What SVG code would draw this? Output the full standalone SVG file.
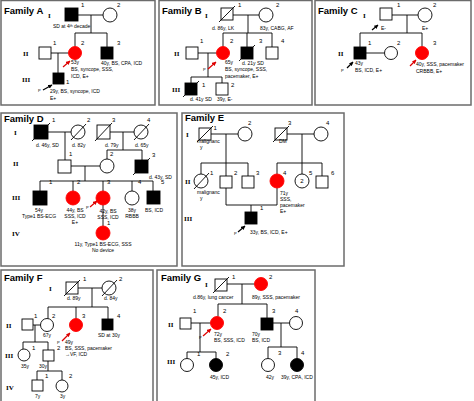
<svg xmlns="http://www.w3.org/2000/svg" width="474" height="401" viewBox="0 0 474 401">
<style>
.frame{fill:#fff;stroke:#6b6b6b;stroke-width:1.5}
.u{fill:#fff;stroke:#000;stroke-width:0.9}
.b{fill:#000;stroke:#000;stroke-width:0.9}
.r{fill:#f00;stroke:#f00;stroke-width:0.9}
.ln{stroke:#000;stroke-width:0.9;fill:none}
.sl{stroke:#000;stroke-width:0.9}
.ab{stroke:#000;stroke-width:1.2;marker-end:url(#hb)}
.ar{stroke:#d00;stroke-width:1.2;marker-end:url(#hr)}
.t{font-family:"Liberation Sans",Arial,sans-serif;font-size:5px;fill:#000}
.c{text-anchor:middle}
.n{font-family:"Liberation Sans",Arial,sans-serif;font-size:6px;fill:#000}
.g{font-family:"Liberation Serif","Times New Roman",serif;font-size:7px;font-weight:bold;fill:#000}
.ti{font-family:"Liberation Sans",Arial,sans-serif;font-size:9.5px;font-weight:bold;fill:#000}
.p{font-family:"Liberation Sans",Arial,sans-serif;font-size:4px;fill:#000}
</style>
<defs>
<marker id="hb" viewBox="0 0 10 10" refX="9" refY="5" markerWidth="3.5" markerHeight="3.5" orient="auto"><path d="M0,0 L10,5 L0,10 z" fill="#000"/></marker>
<marker id="hr" viewBox="0 0 10 10" refX="9" refY="5" markerWidth="3.5" markerHeight="3.5" orient="auto"><path d="M0,0 L10,5 L0,10 z" fill="#d00"/></marker>
</defs>
<rect x="0" y="0" width="474" height="401" fill="#fff"/>
<g id="frames">
<rect class="frame" x="1" y="0.5" width="154" height="104.5"/>
<rect class="frame" x="159" y="0.5" width="153" height="104.5"/>
<rect class="frame" x="315" y="0.5" width="156" height="104.5"/>
<rect class="frame" x="1" y="113" width="176" height="153"/>
<rect class="frame" x="182" y="113" width="162" height="153"/>
<rect class="frame" x="1" y="270" width="152" height="135"/>
<rect class="frame" x="157" y="270" width="158" height="135"/>
</g>
<g id="connectors">
<path class="ln" d="M78,15H103M91,15V33M75,33H107M75,33V46.5M107,33V47M51,53H68.5M58,53V73"/>
<path class="ln" d="M233,15H259M248,15V33M223,33H272M223,33V46.5M247,33V47M272,33V47M198,53H216.5M208,53V77M191,77H222M191,77V83M222,77V83"/>
<path class="ln" d="M392,15H418M407,15V33M360,33H422M360,33V47M422,33V46.5M366,53H384.5"/>
<path class="ln" d="M48,132H71M65,132V160M110,132H134M123,132V150M107,150H142M107,150V159M142,150V160M71,166H100M85,166V181M40,181H153M40,181V191M73,181V191M103,181V191M132,181V191M153,181V191M103,205V226"/>
<path class="ln" d="M211,134H238M226,134V163M201,163H248M201,163V174M226,163V176M248,163V176M287,134H314M302,134V163M277,163H322M277,163V174M302,163V174M322,163V176M226,188V205H277V188M251,205V212"/>
<path class="ln" d="M78,288H102M92,288V307M48,307H108M48,307V318.5M76,307V318.5M108,307V319M33,325H40.5M35,325V342M23,342H48M23,342V349M48,342V350M48,361V371M37,371H62M37,371V380M62,371V380"/>
<path class="ln" d="M227,284H254.5M242,284V304M218,304H267M218,304V316.5M267,304V318M191,323H210.5M200,323V352M187,352H216M187,352V358.5M216,352V358.5M273,323H289.5M281,323V347M268,347H297M268,347V358.5M297,347V358.5"/>
<line class="ar" x1="63" y1="67" x2="70" y2="61"/>
<line class="ab" x1="43" y1="90" x2="52" y2="85"/>
<line class="ar" x1="208" y1="69" x2="216" y2="62"/>
<line class="ab" x1="372" y1="30" x2="378" y2="25"/>
<line class="ab" x1="347" y1="68" x2="353" y2="62"/>
<line class="ar" x1="410" y1="66" x2="416" y2="60"/>
<line class="ar" x1="90" y1="207" x2="97" y2="201"/>
<line class="ab" x1="238" y1="232" x2="245" y2="226"/>
<line class="ar" x1="62" y1="341" x2="70" y2="333"/>
<line class="ar" x1="203" y1="336" x2="211" y2="329"/>
</g>
<g id="familyA">
<text class="ti" x="4" y="14">Family A</text>
<text class="g" x="48" y="18">I</text><text class="g" x="23" y="56">II</text><text class="g" x="22" y="82">III</text>
<g id="A-I-1"><rect class="b" x="65" y="8" width="13" height="13"/><text class="n" x="81" y="7">1</text><text class="t" x="53" y="28">SD at 4<tspan font-size="3.5" dy="-1.5">th</tspan><tspan dy="1.5"> decade</tspan></text></g>
<g id="A-I-2"><circle class="u" cx="110" cy="15" r="7"/><text class="n" x="117" y="7">2</text></g>
<g id="A-II-1"><rect class="u" x="39" y="47" width="12" height="12"/><text class="n" x="53" y="45">1</text></g>
<g id="A-II-2"><circle class="r" cx="75" cy="53" r="6.5"/><text class="n" x="81" y="45">2</text><text class="t" x="71" y="64">53y</text><text class="t" x="71" y="71">BS, syncope, SSS,</text><text class="t" x="71" y="78">ICD, E+</text></g>
<g id="A-II-3"><rect class="b" x="101" y="47" width="12" height="12"/><text class="n" x="117" y="45">3</text><text class="t" x="101" y="65">40y, BS, CPA, ICD</text></g>
<g id="A-III-1"><rect class="b" x="53" y="73" width="11" height="11"/><text class="n" x="66" y="84">1</text><text class="p" x="38" y="92">P</text><text class="t" x="50" y="93">29y, BS, syncope, ICD</text><text class="t" x="50" y="100">E+</text></g>
</g>
<g id="familyB">
<text class="ti" x="162" y="14">Family B</text>
<text class="g" x="205" y="18">I</text><text class="g" x="174" y="56">II</text><text class="g" x="172" y="92">III</text>
<g id="B-I-1"><rect class="u" x="221" y="8" width="12" height="12"/><line class="sl" x1="219" y1="22" x2="235" y2="6"/><text class="n" x="238" y="7">1</text><text class="t" x="212" y="30">d. 86y, LK</text></g>
<g id="B-I-2"><circle class="u" cx="266" cy="15" r="7"/><text class="n" x="276" y="7">2</text><text class="t" x="260" y="30">83y, CABG, AF</text></g>
<g id="B-II-1"><rect class="u" x="186" y="47" width="12" height="12"/><text class="n" x="200" y="43">1</text></g>
<g id="B-II-2"><circle class="r" cx="223" cy="53" r="6.5"/><text class="n" x="230" y="43">2</text><text class="p" x="203" y="71">P</text><text class="t" x="225" y="64">65y</text><text class="t" x="225" y="71">BS, syncope, SSS,</text><text class="t" x="225" y="78">pacemaker, E+</text></g>
<g id="B-II-3"><rect class="b" x="241" y="47" width="12" height="12"/><line class="sl" x1="239" y1="61" x2="255" y2="45"/><text class="n" x="259" y="43">3</text><text class="t" x="242" y="65">d. 21y SD</text></g>
<g id="B-II-4"><rect class="u" x="266" y="47" width="12" height="12"/><text class="n" x="281" y="43">4</text></g>
<g id="B-III-1"><rect class="b" x="185" y="83" width="12" height="12"/><line class="sl" x1="183" y1="97" x2="199" y2="81"/><text class="n" x="202" y="87">1</text><text class="t" x="190" y="101">d. 41y SD</text></g>
<g id="B-III-2"><rect class="u" x="216" y="83" width="12" height="12"/><text class="n" x="231" y="87">2</text><text class="t" x="217" y="101">39y, E-</text></g>
</g>
<g id="familyC">
<text class="ti" x="318" y="14">Family C</text>
<text class="g" x="363" y="18">I</text><text class="g" x="338" y="56">II</text>
<g id="C-I-1"><rect class="u" x="380" y="8" width="12" height="12"/><text class="n" x="397" y="7">1</text><text class="t" x="381" y="30">E-</text></g>
<g id="C-I-2"><circle class="u" cx="425" cy="15" r="7"/><text class="n" x="433" y="7">2</text><text class="t" x="422" y="30">E+</text></g>
<g id="C-II-1"><rect class="b" x="354" y="47" width="12" height="12"/><text class="n" x="368" y="45">1</text><text class="p" x="341" y="72">P</text><text class="t" x="355" y="65">43y</text><text class="t" x="355" y="72">BS, ICD, E+</text></g>
<g id="C-II-2"><circle class="u" cx="391" cy="53" r="6.5"/><text class="n" x="397" y="45">2</text></g>
<g id="C-II-3"><circle class="r" cx="422" cy="53" r="6.5"/><text class="n" x="433" y="45">3</text><text class="t" x="416" y="66">40y, SSS, pacemaker</text><text class="t" x="416" y="73">CRBBB, E+</text></g>
</g>
<g id="familyD">
<text class="ti" x="4" y="122">Family D</text>
<text class="g" x="14" y="135">I</text><text class="g" x="13" y="166">II</text><text class="g" x="12" y="200">III</text><text class="g" x="12" y="236">IV</text>
<g id="D-I-1"><rect class="b" x="34" y="125" width="14" height="14"/><line class="sl" x1="32" y1="141" x2="50" y2="123"/><text class="n" x="52" y="122">1</text><text class="t" x="36" y="147">d. 46y, SD</text></g>
<g id="D-I-2"><circle class="u" cx="78" cy="132" r="7"/><line class="sl" x1="71" y1="140" x2="86" y2="124"/><text class="n" x="87" y="122">2</text><text class="t" x="72" y="147">d. 82y</text></g>
<g id="D-I-3"><rect class="u" x="97" y="125" width="13" height="14"/><line class="sl" x1="95" y1="141" x2="112" y2="123"/><text class="n" x="112" y="122">3</text><text class="t" x="105" y="147">d. 79y</text></g>
<g id="D-I-4"><circle class="u" cx="141" cy="132" r="7"/><line class="sl" x1="134" y1="140" x2="149" y2="124"/><text class="n" x="147" y="122">4</text><text class="t" x="135" y="147">d. 65y</text></g>
<g id="D-II-1"><rect class="u" x="58" y="160" width="13" height="13"/><text class="n" x="69" y="156">1</text></g>
<g id="D-II-2"><circle class="u" cx="107" cy="166" r="7"/><text class="n" x="110" y="156">2</text></g>
<g id="D-II-3"><rect class="b" x="135" y="160" width="13" height="13"/><line class="sl" x1="133" y1="175" x2="150" y2="158"/><text class="n" x="152" y="157">3</text><text class="t" x="149" y="179">d. 43y, SD</text></g>
<g id="D-III-1"><rect class="b" x="33" y="191" width="14" height="14"/><text class="n" x="49" y="184">1</text><text class="t c" x="39" y="212">54y</text><text class="t c" x="39" y="218">Type1 BS-ECG</text></g>
<g id="D-III-2"><circle class="r" cx="73" cy="198" r="7"/><text class="n" x="77" y="184">2</text><text class="t c" x="75" y="212">44y, BS</text><text class="t c" x="75" y="218">SSS, ICD</text><text class="t c" x="75" y="224">E+</text></g>
<g id="D-III-3"><circle class="r" cx="103" cy="198" r="7"/><text class="n" x="107" y="184">3</text><text class="p" x="86" y="209">P</text><text class="t c" x="108" y="213">42y, BS</text><text class="t c" x="108" y="219">SSS, ICD</text></g>
<g id="D-III-4"><circle class="u" cx="132" cy="198" r="7"/><text class="n" x="138" y="184">4</text><text class="t c" x="132" y="212">38y</text><text class="t c" x="132" y="218">RBBB</text></g>
<g id="D-III-5"><rect class="b" x="147" y="191" width="13" height="13"/><text class="n" x="161" y="184">5</text><text class="t c" x="154" y="212">BS, ICD</text></g>
<g id="D-IV-1"><circle class="r" cx="103" cy="233" r="7"/><text class="n" x="107" y="225">1</text><text class="t c" x="103" y="246">11y, Type1 BS-ECG, SSS</text><text class="t c" x="103" y="252">No device</text></g>
</g>
<g id="familyE">
<text class="ti" x="185" y="121">Family E</text>
<text class="g" x="186" y="137">I</text><text class="g" x="185" y="184">II</text><text class="g" x="184" y="221">III</text>
<g id="E-I-1"><rect class="u" x="199" y="128" width="12" height="12"/><line class="sl" x1="197" y1="142" x2="213" y2="126"/><text class="n" x="213.5" y="129.5">1</text><text class="t" x="197" y="143">malignanc</text><text class="t" x="200" y="149">y</text></g>
<g id="E-I-2"><circle class="u" cx="245" cy="134" r="7"/><text class="n" x="248" y="125">2</text></g>
<g id="E-I-3"><rect class="u" x="275" y="128" width="12" height="12"/><line class="sl" x1="273" y1="142" x2="289" y2="126"/><text class="n" x="288" y="125">3</text><text class="t" x="279" y="143">DM</text></g>
<g id="E-I-4"><circle class="u" cx="321" cy="134" r="7"/><text class="n" x="326" y="125">4</text></g>
<g id="E-II-1"><circle class="u" cx="201" cy="181" r="7"/><line class="sl" x1="194" y1="189" x2="209" y2="173"/><text class="n" x="210" y="175">1</text><text class="t" x="197" y="194">malignanc</text><text class="t" x="200" y="200">y</text></g>
<g id="E-II-2"><rect class="u" x="220" y="176" width="12" height="12"/><text class="n" x="234" y="175">2</text></g>
<g id="E-II-3"><rect class="u" x="242" y="176" width="12" height="12"/><text class="n" x="256" y="175">3</text></g>
<g id="E-II-4"><circle class="r" cx="277" cy="181" r="7"/><text class="n" x="283" y="175">4</text><text class="t" x="280" y="195">71y</text><text class="t" x="280" y="201">SSS,</text><text class="t" x="280" y="207">pacemaker</text><text class="t" x="280" y="213">E+</text></g>
<g id="E-II-5"><circle class="u" cx="302" cy="181" r="7"/><text class="n c" x="302" y="183.2">2</text><text class="n" x="309" y="175">5</text></g>
<g id="E-II-6"><rect class="u" x="316" y="176" width="12" height="12"/><text class="n" x="331" y="175">6</text></g>
<g id="E-III-1"><rect class="b" x="245" y="212" width="12" height="12"/><text class="n" x="260" y="210">1</text><text class="p" x="234" y="235">P</text><text class="t" x="250" y="234">33y, BS, ICD, E+</text></g>
</g>
<g id="familyF">
<text class="ti" x="4" y="281">Family F</text>
<text class="g" x="49" y="291">I</text><text class="g" x="6" y="328">II</text><text class="g" x="5" y="358">III</text><text class="g" x="6" y="390">IV</text>
<g id="F-I-1"><rect class="u" x="66" y="282" width="12" height="12"/><line class="sl" x1="64" y1="296" x2="80" y2="280"/><text class="n" x="83" y="281">1</text><text class="t" x="67" y="300">d. 89y</text></g>
<g id="F-I-2"><circle class="u" cx="109" cy="288" r="7"/><line class="sl" x1="102" y1="296" x2="117" y2="280"/><text class="n" x="119" y="281">2</text><text class="t" x="104" y="300">d. 84y</text></g>
<g id="F-II-1"><rect class="u" x="22" y="319" width="11" height="11"/><text class="n" x="34" y="318">1</text></g>
<g id="F-II-2"><circle class="u" cx="47" cy="325" r="6.5"/><text class="n" x="52" y="318">2</text><text class="t" x="43" y="337">67y</text></g>
<g id="F-II-3"><circle class="r" cx="76" cy="325" r="6.5"/><text class="n" x="82" y="318">3</text><text class="p" x="57" y="344">P</text><text class="t" x="65" y="344">49y</text><text class="t" x="65" y="350">BS, SSS, pacemaker</text><text class="t" x="65" y="356">→VF, ICD</text></g>
<g id="F-II-4"><rect class="b" x="102" y="319" width="11" height="11"/><text class="n" x="117" y="318">4</text><text class="t" x="98" y="337">SD at 30y</text></g>
<g id="F-III-1"><circle class="u" cx="24" cy="355" r="6"/><text class="n" x="32" y="350">1</text><text class="t" x="21" y="368">35y</text></g>
<g id="F-III-2"><rect class="u" x="43" y="350" width="11" height="11"/><text class="n" x="57" y="350">2</text><text class="t" x="39" y="368">30y</text></g>
<g id="F-IV-1"><rect class="u" x="32" y="380" width="11" height="11"/><text class="n" x="45" y="378">1</text><text class="t" x="35" y="398">7y</text></g>
<g id="F-IV-2"><circle class="u" cx="62" cy="386" r="6"/><text class="n" x="69" y="378">2</text><text class="t" x="60" y="398">3y</text></g>
</g>
<g id="familyG">
<text class="ti" x="161" y="281">Family G</text>
<text class="g" x="205" y="287">I</text><text class="g" x="168" y="327">II</text><text class="g" x="167" y="364">III</text>
<g id="G-I-1"><rect class="u" x="215" y="279" width="12" height="12"/><line class="sl" x1="213" y1="293" x2="229" y2="277"/><text class="n" x="232" y="279">1</text><text class="t" x="193" y="299">d.86y, lung cancer</text></g>
<g id="G-I-2"><circle class="r" cx="261" cy="284" r="6.5"/><text class="n" x="269" y="279">2</text><text class="t" x="252" y="299">89y, SSS, pacemaker</text></g>
<g id="G-II-1"><rect class="u" x="180" y="318" width="11" height="11"/><text class="n" x="193" y="313">1</text></g>
<g id="G-II-2"><circle class="r" cx="217" cy="323" r="6.5"/><text class="n" x="223" y="313">2</text><text class="p" x="199" y="339">P</text><text class="t" x="214" y="336">72y</text><text class="t" x="214" y="342">BS, SSS, ICD</text></g>
<g id="G-II-3"><rect class="b" x="261" y="318" width="12" height="12"/><text class="n" x="272" y="313">3</text><text class="t" x="252" y="336">70y</text><text class="t" x="252" y="342">BS, ICD</text></g>
<g id="G-II-4"><circle class="u" cx="296" cy="323" r="6.5"/><text class="n" x="295" y="313">4</text></g>
<g id="G-III-1"><circle class="u" cx="187" cy="365" r="6.5"/><text class="n" x="197" y="356">1</text></g>
<g id="G-III-2"><circle class="b" cx="216" cy="365" r="6.5"/><text class="n" x="226" y="356">2</text><text class="t" x="210" y="379">45y, ICD</text></g>
<g id="G-III-3"><circle class="u" cx="268" cy="365" r="6.5"/><text class="n" x="278" y="355">3</text><text class="t" x="266" y="379">42y</text></g>
<g id="G-III-4"><circle class="b" cx="297" cy="365" r="6.5"/><text class="n" x="301" y="355">4</text><text class="t" x="281" y="379">39y, CPA, ICD</text></g>
</g>
</svg>
